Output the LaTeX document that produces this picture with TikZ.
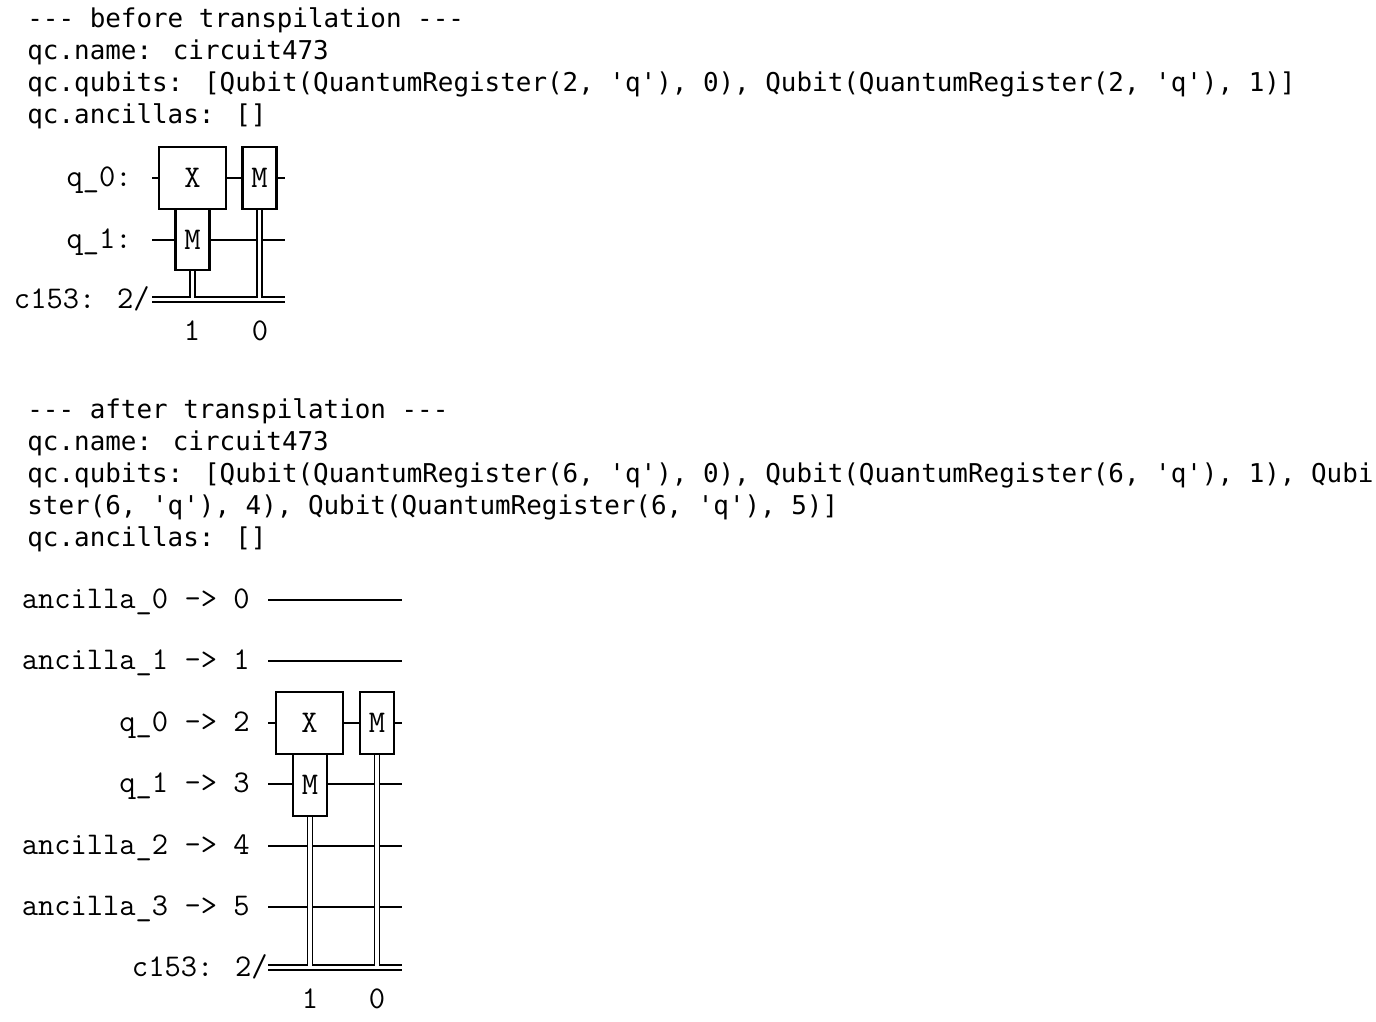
\documentclass[tikz,border=0pt]{standalone}
\usepackage{fontspec}
\newfontfamily\hdr{DejaVu Sans Mono}
\newfontfamily\cir{Latin Modern Mono}
\begin{document}
\begin{tikzpicture}[x=0.5pt,y=-0.5pt,
  hline/.style={font=\hdr\fontsize{12.95pt}{15pt}\selectfont,anchor=base west,inner sep=0},
  lab/.style={font=\cir\fontsize{15.8pt}{17pt}\selectfont,anchor=base east,inner sep=0},
  num/.style={font=\cir\fontsize{15.8pt}{17pt}\selectfont,anchor=base,inner sep=0},
  gate/.style={draw,line width=1.1pt,fill=white,inner sep=0,font=\cir\fontsize{15.8pt}{17pt}\selectfont},
  wire/.style={line width=1pt},
  cl/.style={double,double distance=1.6pt,line width=0.8pt}]
\useasboundingbox (0,0) rectangle (1376,1022);
\clip (0,0) rectangle (1376,1022);
\node[hline] (h1) at (27,28) {--- before transpilation ---};
\node[hline] (h2) at (27,60) {qc.name: circuit473};
\node[hline] (h3) at (27,92) {qc.qubits: [Qubit(QuantumRegister(2, 'q'), 0), Qubit(QuantumRegister(2, 'q'), 1)]};
\node[hline] (h4) at (27,124) {qc.ancillas: []};
\node[hline] (h5) at (27,418) {--- after transpilation ---};
\node[hline] (h6) at (27,450) {qc.name: circuit473};
\node[hline] (h7) at (27,482) {qc.qubits: [Qubit(QuantumRegister(6, 'q'), 0), Qubit(QuantumRegister(6, 'q'), 1), Qubi};
\node[hline] (h8) at (27,514) {ster(6, 'q'), 4), Qubit(QuantumRegister(6, 'q'), 5)]};
\node[hline] (h9) at (27,546) {qc.ancillas: []};
% ---- circuit 1
\node[lab] (l0) at (132,186) {q\_0:};
\node[lab] (l1) at (132,248) {q\_1:};
\node[lab] (lc) at (150,308) {c153: 2/};
\coordinate (a0) at (152,178); \coordinate (b0) at (285,178);
\coordinate (a1) at (152,240); \coordinate (b1) at (285,240);
\coordinate (ac) at (152,299.5); \coordinate (bc) at (285,299.5);
\draw[wire] (a0) -- (b0);
\draw[wire] (a1) -- (b1);
\draw[cl] (ac) -- (bc);
\node[gate,minimum width=33.5pt,minimum height=31pt] (x1) at (192.5,178) {X};
\node[gate,minimum width=17pt,minimum height=31pt] (m01) at (259.5,178) {M};
\node[gate,minimum width=17pt,minimum height=30.5pt] (m11) at (192.5,239.5) {M};
\draw[cl] (m11.south) -- (192.5,298);
\draw[cl] (m01.south) -- (259.5,298);
\node[num] (n11) at (192,340) {1};
\node[num] (n01) at (260,340) {0};
% ---- circuit 2
\node[lab] (r0) at (250,608) {ancilla\_0 -> 0};
\node[lab] (r1) at (250,669) {ancilla\_1 -> 1};
\node[lab] (r2) at (250,731) {q\_0 -> 2};
\node[lab] (r3) at (250,792) {q\_1 -> 3};
\node[lab] (r4) at (250,854) {ancilla\_2 -> 4};
\node[lab] (r5) at (250,915) {ancilla\_3 -> 5};
\node[lab] (rc) at (268,976) {c153: 2/};
\foreach \y/\n in {600/0,661/1,723/2,784/3,846/4,907/5}{
  \coordinate (s\n) at (268,\y); \coordinate (e\n) at (402,\y);
  \draw[wire] (s\n) -- (e\n);}
\coordinate (sc) at (268,967.5); \coordinate (ec) at (402,967.5);
\draw[cl] (sc) -- (ec);
\node[gate,minimum width=33.5pt,minimum height=31pt] (x2) at (309.5,723) {X};
\node[gate,minimum width=17pt,minimum height=31pt] (m02) at (377,723) {M};
\node[gate,minimum width=17pt,minimum height=31pt] (m12) at (310,785) {M};
\draw[cl] (m12.south) -- (310,966);
\draw[cl] (m02.south) -- (377,966);
\node[num] (n12) at (310,1008) {1};
\node[num] (n02) at (377,1008) {0};
\end{tikzpicture}
\end{document}
